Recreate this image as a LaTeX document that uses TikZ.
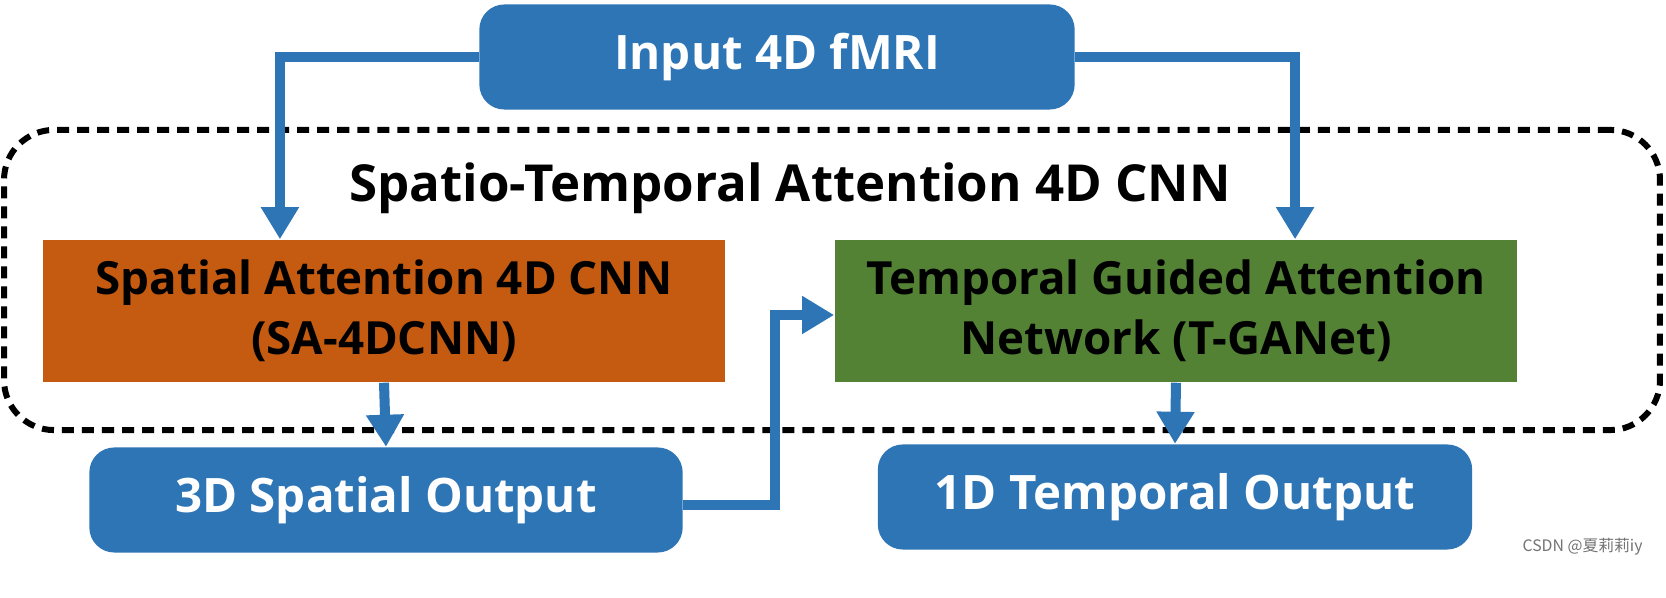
\documentclass[tikz,border=0pt]{standalone}
\usepackage{fontspec}
\setmainfont{Open Sans}
\newfontfamily\cjkfont{Noto Sans CJK SC}
\usetikzlibrary{arrows.meta}
\definecolor{bl}{HTML}{2E75B6}
\definecolor{or}{HTML}{C55A11}
\definecolor{gr}{HTML}{548235}
\begin{document}
\begin{tikzpicture}[x=0.01cm,y=-0.01cm,
  bbox/.style={fill=bl,rounded corners=0.25cm,text=white,font=\fontsize{13.5}{16}\selectfont\bfseries,inner sep=0},
  mbox/.style={text=black,font=\fontsize{13}{17}\selectfont\bfseries,align=center,inner sep=0},
  arr/.style={draw=bl,line width=0.1cm,-{Triangle[length=0.32cm,width=0.36cm]}}]
\useasboundingbox (0,0) rectangle (1666,598);
\fill[white] (0,0) rectangle (1666,598);
\node[draw=black,line width=0.06cm,dash pattern=on 0.12cm off 0.08cm,rounded corners=0.5cm,minimum width=16.55cm,minimum height=3cm] (frame) at (832,280) {};
\node[font=\fontsize{14.5}{17}\selectfont\bfseries] (title) at (790,188) {Spatio-Temporal Attention 4D CNN};
\node[bbox,minimum width=5.95cm,minimum height=1.05cm] (in) at (777,57) {Input 4D fMRI};
\node[mbox,fill=or,minimum width=6.82cm,minimum height=1.42cm] (sa) at (384,311) {Spatial Attention 4D CNN\\(SA-4DCNN)};
\node[mbox,fill=gr,minimum width=6.82cm,minimum height=1.42cm] (tg) at (1176,311) {Temporal Guided Attention\\Network (T-GANet)};
\node[bbox,minimum width=5.93cm,minimum height=1.05cm] (so) at (386,500) {3D Spatial Output};
\node[bbox,minimum width=5.94cm,minimum height=1.05cm] (to) at (1175,497) {1D Temporal Output};
\draw[arr] (in.west) -| ([xshift=-1.04cm]sa.north);
\draw[arr] (in.east) -| ([xshift=1.19cm]tg.north);
\draw[arr] (sa.south) -- (so.north);
\draw[arr] (tg.south) -- (to.north);
\coordinate (k1) at (775,505);
\coordinate (k2) at (775,315);
\draw[arr] (so.east|-k1) -- (k1) -- (k2) -- (tg.west|-k2);
\node[text=white!45!black,font=\cjkfont\fontsize{4.5}{6}\selectfont,anchor=east] (wm) at (1655,547) {CSDN @夏莉莉iy};
\end{tikzpicture}
\end{document}
